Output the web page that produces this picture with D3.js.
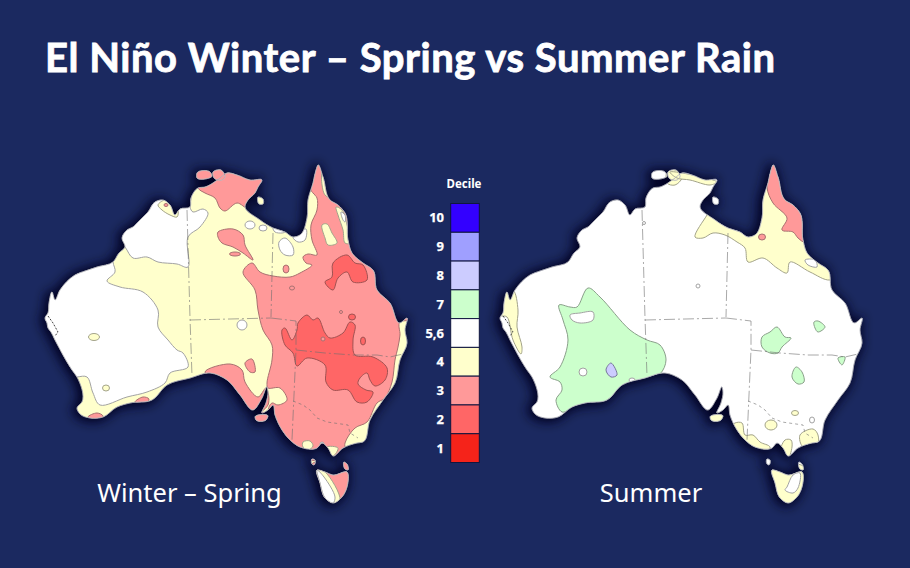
<!DOCTYPE html>
<html>
<head>
<meta charset="utf-8">
<script src="https://cdnjs.cloudflare.com/ajax/libs/d3/7.8.5/d3.min.js"></script>
<style>
  html, body { margin: 0; padding: 0; background: #1b2960; }
  svg { display: block; }
  text { font-family: "Noto Sans", sans-serif; fill: #fff; }
</style>
</head>
<body>
<svg id="chart" width="910" height="568"></svg>
<script>
// legend
const decileLabels = ['10', '9', '8', '7', '5,6', '4', '3', '2', '1'];
const decileColors = ['#3300ff', '#9f9fff', '#ccccff', '#ccffcc', '#ffffff', '#ffffcc', '#ff9999', '#ff6666', '#f5231a'];
const decileEdges = ['#555', '#6a6a9a', '#77779a', '#8a9f8a', '#a2a2a2', '#a3a38a', '#a87070', '#a05252', '#800'];

// all shapes are traced on a 370 x 345 map grid
const mainland = [[7,163],[5,158],[8,153],[9,143],[12,132],[15,140],[20,130],[35,115],[45,111],[57,107],[73,102],[79,93],[85,87],[82,78],[87,70],[93,67],[98,62],[103,57],[108,52],[115,42],[123,40],[130,45],[135,55],[140,49],[150,47],[151,38],[158,28],[165,27],[173,23],[180,18],[187,13],[197,15],[210,20],[222,20],[218,27],[215,33],[208,40],[205,46],[220,60],[233,68],[245,72],[253,77],[260,75],[267,58],[268,40],[273,23],[276,10],[278,5],[283,17],[290,40],[298,45],[305,53],[308,80],[312,93],[323,103],[333,110],[337,130],[350,143],[360,163],[367,158],[365,170],[367,183],[360,200],[355,223],[343,240],[330,260],[323,282],[317,283],[303,288],[293,296],[288,288],[282,283],[277,288],[260,287],[250,280],[242,270],[235,255],[233,245],[228,250],[222,253],[226,243],[228,232],[227,227],[222,238],[213,250],[200,235],[187,220],[170,213],[150,218],[127,225],[112,240],[90,243],[77,247],[63,257],[50,258],[40,254],[37,248],[42,242],[37,217],[32,210],[15,180],[11,172],[8,168]];
const islands = [
  [[157,13],[170,12],[172,16],[165,19],[157,18]],
  [[173,12],[181,10],[185,17],[182,20],[174,18]],
  [[218,37],[223,39],[223,44],[219,44]],
  [[215,257],[228,256],[226,260],[216,260]],
  [[272,299],[275,300],[274,305],[272,304]],
  [[304,302],[307,304],[308,310],[305,309]],
  [[277,310],[285,312],[293,315],[307,312],[307,327],[302,337],[293,343],[285,338],[280,323]]
];
const sharkBay = [[8,156],[13,163],[18,172],[15,176]];
const borders = [
  [[147,50],[150,158],[152,216]],
  [[150,160],[231,158]],
  [[233,73],[231,157]],
  [[231,158],[256,161],[256,190],[252,280]],
  [[256,190],[285,193],[313,195],[337,195],[350,197],[363,194]],
  [[253,241],[263,245],[270,250],[277,258],[287,262],[308,265],[310,273],[318,278]]
];

// winter - spring contours, painted in this order on decile 4
const wsWest = [[73,102],[75,112],[67,121],[80,127],[103,132],[118,150],[118,167],[128,180],[137,190],[143,193],[148,207],[130,213],[125,223],[107,232],[87,237],[60,245],[53,233],[47,217],[37,217],[20,220],[-10,170],[-10,120],[40,90],[73,90]];
const wsKimberley = [[85,87],[93,98],[107,97],[118,102],[137,104],[148,107],[148,77],[160,67],[168,53],[163,49],[153,52],[150,47],[150,35],[110,30],[70,70]];
const wsDampier = [[118,45],[125,40],[132,43],[138,50],[137,57],[130,55],[122,50]];
const wsTopEnd = [[158,28],[165,33],[175,38],[180,48],[185,51],[197,43],[208,48],[215,35],[225,20],[185,5],[155,5]];
const wsInland = [[178,72],[193,69],[203,75],[205,85],[213,100],[203,93],[193,87],[182,83],[178,77]];
const wsEast = [[273,0],[271,30],[273,33],[277,38],[277,50],[271,65],[272,80],[277,95],[268,94],[263,97],[266,103],[272,105],[260,113],[250,117],[233,116],[220,112],[212,103],[203,112],[215,130],[218,150],[223,170],[232,185],[232,200],[227,223],[228,228],[240,228],[247,240],[238,245],[232,243],[228,252],[245,295],[305,295],[305,283],[315,268],[327,262],[337,243],[345,238],[352,222],[355,200],[358,187],[360,175],[360,162],[390,160],[360,110],[320,80],[305,30],[290,0]];
const wsGulfs = [[165,212],[190,204],[202,210],[205,222],[218,237],[226,228],[228,245],[210,255],[185,225]];
const wsFlinders = [[205,203],[212,199],[215,212],[210,212]];
const wsCapeLeeuwin = [[48,257],[57,253],[63,256],[57,261]];
const wsEsperance = [[95,242],[103,237],[109,239],[105,244]];
const wsKangaroo = [[213,254],[230,254],[230,262],[213,262]];
const wsTasEast = [[270,305],[312,305],[312,345],[270,345]];
const wsTasCoast = [[277,310],[285,312],[300,340],[293,345],[275,340]];
const wsTasWest = [[277,310],[284,317],[295,337],[293,343],[285,338],[280,323]];
const wsMaranoa = [[293,103],[307,95],[315,103],[323,105],[327,120],[313,122],[307,112],[298,118],[293,130],[285,122],[292,117]];
const wsDarling = [[242,170],[245,168],[252,180],[257,170],[258,163],[267,155],[273,160],[278,158],[285,173],[290,178],[303,173],[310,162],[315,165],[313,180],[315,195],[333,197],[347,208],[345,220],[335,226],[330,220],[327,213],[320,218],[318,224],[326,230],[333,232],[327,242],[317,242],[308,230],[293,230],[286,222],[285,205],[267,198],[257,206],[253,193],[245,185]];
const wsYorkOval = [[282,65],[287,64],[292,73],[297,83],[288,85],[285,78]];
const wsYorkStrip = [[282,12],[285,20],[289,37],[285,35],[282,25]];
const wsCairnsStrip = [[296,47],[302,50],[307,65],[310,83],[305,83],[303,70],[298,55]];
const wsCairnsWhite = [[301,52],[305,55],[305,62],[303,60]];
const wsGulfWhite1 = [[233,68],[245,72],[242,73],[235,72]];
const wsGulfWhite2 = [[253,77],[266,69],[265,80],[258,82]];
const wsGulfWhite3 = [[239,82],[245,78],[253,87],[253,95],[245,95],[240,90]];
const wsOtway = [[263,282],[270,281],[273,286],[268,290],[263,287]];
const wsWilsons = [[287,287],[298,288],[293,296]];
// small closed contours: cx, cy, rx, ry, decile
const wsSpots = [
  [54,177,5.5,3.5,'4'],[66,228,3.5,3,'4'],[126,45,2,1.5,'3'],[195,94,5.5,2,'3'],[246,109,3,4,'3'],
  [210,65,5,4,'5,6'],[223,68,4,3,'5,6'],[202,165,5,5,'5,6'],[252,128,2.5,2,'3'],[301,152,1.5,1.5,'3'],
  [312,157,3.5,3,'2'],[323,181,2.5,4,'2'],[283,179,2,2,'3'],[282,284,2,2,'5,6']
];
const wsRegions = [
  ['5,6',wsWest],['5,6',wsKimberley],['4',wsDampier],['3',wsTopEnd],['3',wsInland],['3',wsEast],['3',wsGulfs],
  ['3',wsFlinders],['3',wsCapeLeeuwin],['3',wsEsperance],['3',wsKangaroo],['3',wsTasEast],['4',wsTasCoast],['5,6',wsTasWest],
  ['2',wsMaranoa],['2',wsDarling],['4',wsYorkOval],['4',wsYorkStrip],['4',wsCairnsStrip],['5,6',wsCairnsWhite],
  ['5,6',wsGulfWhite1],['5,6',wsGulfWhite2],['5,6',wsGulfWhite3],['4',wsOtway],['4',wsWilsons]
];

// summer contours, painted in this order on decile 5,6
const suShark = [[8,130],[18,130],[23,150],[22,167],[27,187],[26,194],[18,180],[12,157],[5,155]];
const suGreen = [[64,145],[75,147],[82,147],[93,128],[105,137],[135,170],[152,180],[165,185],[171,200],[165,214],[147,222],[112,240],[105,246],[78,248],[67,252],[61,240],[67,230],[65,222],[55,217],[65,207],[73,180],[68,160]];
const suGreenHole = [[75,155],[85,153],[98,152],[98,160],[85,163],[77,160]];
const suLavender = [[116,203],[122,215],[116,217],[111,210]];
const suBarcoo = [[267,177],[275,172],[282,167],[290,177],[296,178],[287,187],[283,193],[275,193],[267,187]];
const suBurnett = [[319,162],[323,161],[330,167],[323,172],[320,168]];
const suDarling = [[301,207],[307,212],[309,222],[303,224],[297,217]];
const suBorder = [[343,198],[350,197],[347,205]];
const suNorth = [[215,50],[212,55],[200,77],[208,78],[218,73],[230,75],[242,82],[250,88],[253,102],[268,98],[282,108],[292,113],[295,102],[315,112],[335,120],[350,110],[320,70],[310,40],[270,0],[250,40]];
const suMackay = [[310,100],[320,100],[322,107],[313,105]];
const suCapeYork = [[277,0],[295,30],[315,50],[318,85],[310,83],[303,78],[298,72],[287,70],[292,58],[278,43],[272,27]];
const suTiwi = [[173,10],[185,12],[187,18],[180,25],[172,23]];
const suArnhem = [[175,12],[218,20],[222,22],[215,25],[195,20],[182,18]];
const suSouthEast = [[240,263],[247,263],[250,275],[258,275],[265,282],[275,287],[272,295],[255,292],[235,285],[232,270]];
const suWilsons = [[290,280],[296,280],[297,287],[292,300],[285,295]];
const suGippsland = [[305,275],[318,269],[323,275],[322,287],[308,287]];
const suKangaroo = [[213,254],[230,254],[230,262],[213,262]];
const suTas = [[270,308],[312,308],[312,345],[270,345]];
const suTasEast = [[292,327],[298,315],[305,313],[303,328],[298,333],[290,330]];
const suSpots = [
  [88,212,4,4,'5,6'],[137,220,3,2,'5,6'],[267,77,3.5,3,'3'],[203,126,2,2,'5,6'],[149,63,1.5,1.5,'5,6'],
  [317,260,2.5,3,'5,6'],[276,265,6,5,'4'],[300,253,3.5,2.5,'4']
];
const suRegions = [
  ['4',suShark],['7',suGreen],['5,6',suGreenHole],['8',suLavender],['7',suBarcoo],['7',suBurnett],['7',suDarling],['7',suBorder],
  ['4',suNorth],['5,6',suMackay],['3',suCapeYork],['4',suTiwi],['4',suArnhem],['4',suSouthEast],['4',suWilsons],['4',suGippsland],
  ['4',suKangaroo],['4',suTas],['5,6',suTasEast]
];

const svg = d3.select('#chart');
const defs = svg.append('defs');
const fill = d3.scaleOrdinal(decileLabels, decileColors);
const edge = d3.scaleOrdinal(decileLabels, decileEdges);

const shadow = defs.append('filter').attr('id', 'halo')
  .attr('x', '-15%').attr('y', '-15%').attr('width', '130%').attr('height', '130%');
shadow.append('feGaussianBlur').attr('stdDeviation', 5.5);

svg.append('text').attr('x', 45).attr('y', 72)
  .style('font-family', 'Lato').attr('font-size', 40).attr('font-weight', 700)
  .attr('stroke', '#fff').attr('stroke-width', 0.8)
  .attr('textLength', 730).attr('lengthAdjust', 'spacing')
  .text('El Niño Winter – Spring vs Summer Rain');

const y = d3.scaleLinear().domain([0, 345]).range([160, 505]);

function drawMap(id, left, baseDecile, regions, spots, caption, captionX) {
  const x = d3.scaleLinear().domain([0, 370]).range([left, left + 370]);
  const closed = d3.line().x(d => x(d[0])).y(d => y(d[1])).curve(d3.curveCatmullRomClosed.alpha(0.9));
  const smooth = d3.line().x(d => x(d[0])).y(d => y(d[1])).curve(d3.curveCatmullRomClosed.alpha(0.5));
  const open = d3.line().x(d => x(d[0])).y(d => y(d[1]));
  const land = [mainland].concat(islands);
  const landPath = land.map(closed).join('');

  defs.append('clipPath').attr('id', 'land-' + id).append('path').attr('d', landPath);

  const g = svg.append('g');
  g.append('path').attr('d', landPath)
    .attr('fill', '#030620')
    .attr('stroke', '#030620').attr('stroke-width', 6)
    .attr('transform', 'translate(-2,1)')
    .attr('filter', 'url(#halo)');

  g.append('path').attr('d', landPath).attr('fill', fill(baseDecile));

  const inside = g.append('g').attr('clip-path', 'url(#land-' + id + ')');
  inside.selectAll('path.region').data(regions).enter().append('path')
    .attr('class', 'region')
    .attr('d', d => smooth(d[1]))
    .attr('fill', d => fill(d[0]))
    .attr('stroke', d => edge(d[0]))
    .attr('stroke-width', 1);
  inside.selectAll('ellipse').data(spots).enter().append('ellipse')
    .attr('cx', d => x(d[0])).attr('cy', d => y(d[1]))
    .attr('rx', d => d[2]).attr('ry', d => d[3])
    .attr('fill', d => fill(d[4]))
    .attr('stroke', d => edge(d[4]))
    .attr('stroke-width', 1);
  inside.selectAll('path.border').data(borders).enter().append('path')
    .attr('class', 'border')
    .attr('d', open)
    .attr('fill', 'none')
    .attr('stroke', '#707070').attr('stroke-opacity', 0.6)
    .attr('stroke-width', 1)
    .attr('stroke-dasharray', (d, i) => i === 5 ? '3 3' : '11 3 2 3');
  inside.append('path').attr('d', open(sharkBay))
    .attr('fill', 'none').attr('stroke', '#444').attr('stroke-width', 1)
    .attr('stroke-dasharray', '2 1.5');

  g.append('path').attr('d', landPath)
    .attr('fill', 'none').attr('stroke', '#fff').attr('stroke-width', 1).attr('stroke-opacity', 0.7);
  g.append('path').attr('d', landPath)
    .attr('fill', 'none').attr('stroke', '#55596a').attr('stroke-width', 0.4);

  svg.append('text').attr('x', captionX).attr('y', 502)
    .attr('text-anchor', 'middle').attr('font-size', 25.5).attr('font-weight', 400)
    .text(caption);
}

drawMap('winter', 40, '4', wsRegions, wsSpots, 'Winter – Spring', 189.5);
drawMap('summer', 495, '5,6', suRegions, suSpots, 'Summer', 651);

// decile legend
const legendY = d3.scaleBand().domain(decileLabels).range([203.5, 462.5]);
const legend = svg.append('g');
legend.selectAll('rect').data(decileLabels).enter().append('rect')
  .attr('x', 450.7).attr('y', d => legendY(d))
  .attr('width', 28.6).attr('height', legendY.bandwidth())
  .attr('fill', d => fill(d))
  .attr('stroke', '#10163f').attr('stroke-width', 1);
legend.selectAll('text').data(decileLabels).enter().append('text')
  .attr('x', 444).attr('y', d => legendY(d) + legendY.bandwidth() / 2 + 4.5)
  .attr('text-anchor', 'end').attr('font-size', 13).attr('font-weight', 700)
  .attr('stroke', '#fff').attr('stroke-width', 0.25)
  .text(d => d);
svg.append('text').attr('x', 464).attr('y', 188)
  .attr('text-anchor', 'middle').attr('font-size', 11.5).attr('font-weight', 700)
  .text('Decile');
</script>
</body>
</html>
